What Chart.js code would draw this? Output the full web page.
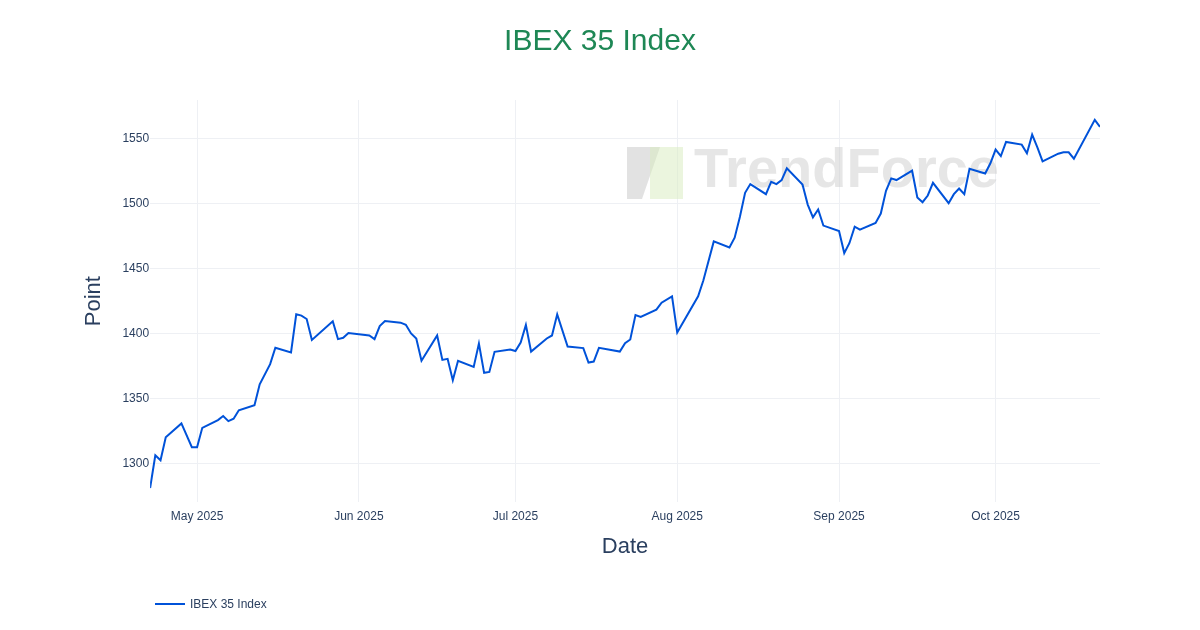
<!DOCTYPE html>
<html>
<head>
<meta charset="utf-8">
<script src="https://cdn.jsdelivr.net/npm/chart.js@4"></script>
<style>
  body { margin: 0; background: #fff; font-family: "Liberation Sans", Arial, sans-serif; }
  #wrap { position: relative; width: 1200px; height: 630px; }
  #title { position: absolute; left: 0; width: 1200px; top: 23px; text-align: center; font-size: 30px; color: #1e8755; }
  #legend { position: absolute; left: 155px; top: 597px; font-size: 12px; color: #2a3f5f; display: flex; align-items: center; }
  #legend span.sw { display: inline-block; width: 30px; height: 2px; background: #0052d9; margin-right: 5px; }
</style>
</head>
<body>
<div id="wrap">
  <canvas id="c" width="1200" height="630"></canvas>
  <div id="title">IBEX 35 Index</div>
  <div id="legend"><span class="sw"></span>IBEX 35 Index</div>
</div>
<script>
// days counted from 1 May 2025
const days = [-9, -8, -7, -6, -3, -1, 0, 1, 4, 5, 6, 7, 8, 11, 12, 14, 15, 18, 19, 20, 21, 22,
  26, 27, 28, 29, 33, 34, 35, 36, 39, 40, 41, 42, 43, 46, 47, 48, 49, 50, 53, 54, 55, 56, 57,
  60, 61, 62, 63, 64, 67, 68, 69, 71, 74, 75, 76, 77, 81, 82, 83, 84, 85, 88, 89, 91, 92,
  96, 97, 99, 102, 103, 104, 105, 106, 109, 110, 111, 112, 113, 116, 117, 118, 119, 120,
  123, 124, 125, 126, 127, 130, 131, 132, 133, 134, 137, 138, 139, 140, 141, 144, 145, 146,
  147, 148, 151, 152, 153, 154, 155, 158, 159, 160, 161, 162, 165, 166, 167, 168, 172, 173];
const points = [1280.9, 1306.2, 1302.3, 1320, 1330.7, 1312.4, 1312.4, 1327.3, 1333.3, 1336.4,
  1332.5, 1334.3, 1340.8, 1344.7, 1360.9, 1376.4, 1389, 1385.4, 1414.8, 1413.8, 1411.2, 1395,
  1409.4, 1395.7, 1396.7, 1400.4, 1398.5, 1395.7, 1405.8, 1409.6, 1408.4, 1406.8, 1400.1,
  1396.2, 1379, 1398.5, 1379.7, 1380.5, 1364, 1379, 1374.3, 1392.3, 1369.7, 1370.4, 1385.9,
  1387.7, 1386.5, 1393.1, 1406.6, 1386.1, 1396.2, 1398.5, 1414.8, 1390, 1388.8, 1377.6,
  1378.4, 1389, 1386.1, 1392.6, 1395.4, 1414.3, 1412.8, 1418.4, 1423.8, 1428.7, 1400.8,
  1428.7, 1440.9, 1471, 1466.4, 1473.9, 1489.9, 1508.5, 1515.2, 1507.4, 1517, 1515.2, 1518.3,
  1527.3, 1514.9, 1499.4, 1489.6, 1495.6, 1483.2, 1479, 1462, 1469.8, 1482.4, 1480.1, 1485.2,
  1492.5, 1510, 1519.6, 1518.3, 1525.5, 1504.9, 1501.2, 1506.4, 1516.2, 1500.5, 1507.4,
  1511.8, 1507.4, 1527, 1523.4, 1531.2, 1541.8, 1536.8, 1547.7, 1545.6, 1539, 1553.3, 1543.5,
  1532.7, 1538.6, 1539.7, 1539.7, 1534.8, 1564.7, 1559.3];
const monthTicks = [0, 31, 61, 92, 123, 153];
const monthLabels = ["May 2025", "Jun 2025", "Jul 2025", "Aug 2025", "Sep 2025", "Oct 2025"];
const yTicks = [1300, 1350, 1400, 1450, 1500, 1550];

Chart.defaults.font.family = "'Liberation Sans', Arial, sans-serif";

const watermark = {
  id: "watermark",
  beforeDatasetsDraw(chart) {
    const ctx = chart.ctx;
    ctx.save();
    ctx.fillStyle = "rgba(200,200,200,0.45)";
    ctx.font = "bold 56px 'Liberation Sans', Arial, sans-serif";
    ctx.textBaseline = "middle";
    ctx.fillText("TrendForce", 694, 172);
    ctx.fillStyle = "rgba(190,190,190,0.45)";
    ctx.beginPath();
    ctx.moveTo(627, 147); ctx.lineTo(660, 147); ctx.lineTo(642, 199); ctx.lineTo(627, 199);
    ctx.fill();
    ctx.fillStyle = "rgba(215,235,190,0.5)";
    ctx.fillRect(650, 147, 33, 52);
    ctx.restore();
  }
};

new Chart(document.getElementById("c"), {
  type: "line",
  data: {
    datasets: [{
      label: "IBEX 35 Index",
      data: days.map((d, i) => ({ x: d, y: points[i] })),
      borderColor: "#0052d9",
      borderWidth: 2,
      pointRadius: 0,
      tension: 0,
      fill: false
    }]
  },
  options: {
    responsive: false,
    animation: false,
    layout: { padding: { left: 77, right: 100, top: 100, bottom: 60 } },
    plugins: {
      legend: { display: false },
      tooltip: { enabled: false },
      title: { display: false }
    },
    scales: {
      x: {
        type: "linear",
        min: -9,
        max: 173,
        afterBuildTicks(axis) { axis.ticks = monthTicks.map(v => ({ value: v })); },
        ticks: {
          callback: v => monthLabels[monthTicks.indexOf(v)],
          color: "#2a3f5f",
          font: { size: 12 },
          padding: 7,
          maxRotation: 0,
          autoSkip: false
        },
        grid: { color: "#eef0f4", drawTicks: false },
        border: { display: false },
        title: { display: true, text: "Date", color: "#2a3f5f", font: { size: 22 }, padding: { top: 3, bottom: 10 } }
      },
      y: {
        min: 1270,
        max: 1580,
        afterBuildTicks(axis) { axis.ticks = yTicks.map(v => ({ value: v })); },
        ticks: { color: "#2a3f5f", font: { size: 12 }, padding: 1, callback: v => String(v) },
        grid: { color: "#eef0f4", drawTicks: false },
        border: { display: false },
        title: { display: true, text: "Point", color: "#2a3f5f", font: { size: 22 }, padding: { bottom: 14 } }
      }
    }
  },
  plugins: [watermark]
});
</script>
</body>
</html>
